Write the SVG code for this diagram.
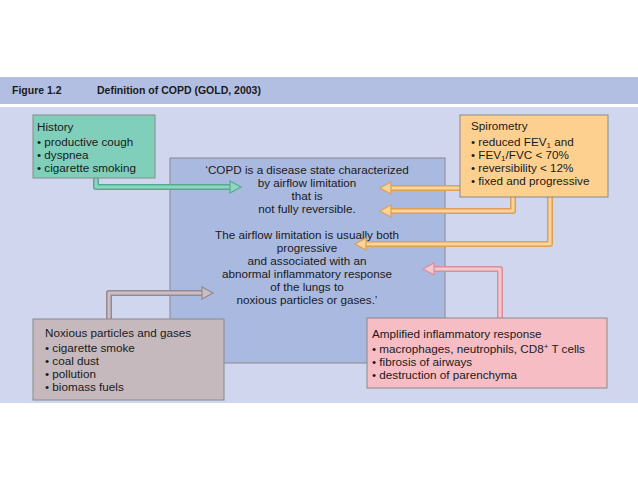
<svg xmlns="http://www.w3.org/2000/svg" width="638" height="478" viewBox="0 0 638 478">
<style>
text{font-family:"Liberation Sans",Arial,sans-serif;font-size:11.7px;fill:#1a1a1a}
.c{text-anchor:middle}
.b{font-weight:bold;font-size:10.5px}
.box{stroke:#8a8a8a;stroke-width:1}
.o{fill:none;stroke-width:6;stroke-linejoin:round}
.i{fill:none;stroke-width:3;stroke-linejoin:round}
</style>
<rect width="638" height="478" fill="#fff"/>
<rect x="0" y="77" width="638" height="27" fill="#b2bfe2"/>
<rect x="0" y="107" width="638" height="296" fill="#cfd6ed"/>
<text x="12" y="94" class="b">Figure 1.2</text>
<text x="97" y="94" class="b">Definition of COPD (GOLD, 2003)</text>
<g id="center"><rect class="box" x="170" y="158" width="275" height="205" fill="#aab9e0"/>
<g class="c"><text x="307" y="174">‘COPD is a disease state characterized</text><text x="307" y="187">by airflow limitation</text><text x="307" y="200">that is</text><text x="307" y="213">not fully reversible.</text><text x="307" y="239">The airflow limitation is usually both</text><text x="307" y="252">progressive</text><text x="307" y="265">and associated with an</text><text x="307" y="278">abnormal inflammatory response</text><text x="307" y="291">of the lungs to</text><text x="307" y="304">noxious particles or gases.’</text></g></g>
<g id="connectors">
<g stroke="#5aa88f"><path class="o" d="M96,178 V187 H232"/><path class="i" d="M96,178 V187 H232" stroke="#8fd6c2"/><polygon points="241,187 230,181 230,193" fill="#8fd6c2" stroke-width="1.2"/></g>
<g stroke="#d9a255"><path class="o" d="M460,188 H388"/><path class="i" d="M461,188 H388" stroke="#fcd49a"/><polygon points="380,188 391,182 391,194" fill="#fcd49a" stroke-width="1.2"/>
<path class="o" d="M513,197 V211 H388"/><path class="i" d="M513,196 V211 H388" stroke="#fcd49a"/><polygon points="380,211 391,205 391,217" fill="#fcd49a" stroke-width="1.2"/>
<path class="o" d="M550,197 V244 H363"/><path class="i" d="M550,196 V244 H363" stroke="#fcd49a"/><polygon points="355,244 366,238 366,250" fill="#fcd49a" stroke-width="1.2"/></g>
<g stroke="#d88f9a"><path class="o" d="M500,318 V269 H431"/><path class="i" d="M500,319 V269 H431" stroke="#f8c6cd"/><polygon points="423,269 434,263 434,275" fill="#f8c6cd" stroke-width="1.2"/></g>
<g stroke="#958890"><path class="o" d="M109,319 V293 H205"/><path class="i" d="M109,320 V293 H205" stroke="#cbbfc4"/><polygon points="213,293 202,287 202,299" fill="#cbbfc4" stroke-width="1.2"/></g>
</g>
<g id="history"><rect class="box" x="33" y="115" width="122" height="63" fill="#7fcfbb"/>
<text x="37" y="131">History</text><text x="37" y="146">• productive cough</text><text x="37" y="159">• dyspnea</text><text x="37" y="172">• cigarette smoking</text></g>
<g id="spirometry"><rect class="box" x="460" y="115" width="148" height="82" fill="#fdd08f"/>
<text x="471" y="130">Spirometry</text><text x="471" y="146">• reduced FEV<tspan font-size="8" dy="2">1</tspan><tspan dy="-2"> and</tspan></text><text x="471" y="159">• FEV<tspan font-size="8" dy="2">1</tspan><tspan dy="-2">/FVC &lt; 70%</tspan></text><text x="471" y="172">• reversibility &lt; 12%</text><text x="471" y="185">• fixed and progressive</text></g>
<g id="noxious"><rect class="box" x="33" y="319" width="191" height="81" fill="#c6b9be"/>
<text x="45" y="337">Noxious particles and gases</text><text x="45" y="352">• cigarette smoke</text><text x="45" y="365">• coal dust</text><text x="45" y="378">• pollution</text><text x="45" y="391">• biomass fuels</text></g>
<g id="amplified"><rect class="box" x="367" y="318" width="240" height="70" fill="#f6bdc5"/>
<text x="372" y="338">Amplified inflammatory response</text><text x="372" y="353">• macrophages, neutrophils, CD8<tspan font-size="8" dy="-4">+</tspan><tspan dy="4"> T cells</tspan></text><text x="372" y="366">• fibrosis of airways</text><text x="372" y="379">• destruction of parenchyma</text></g>
</svg>
